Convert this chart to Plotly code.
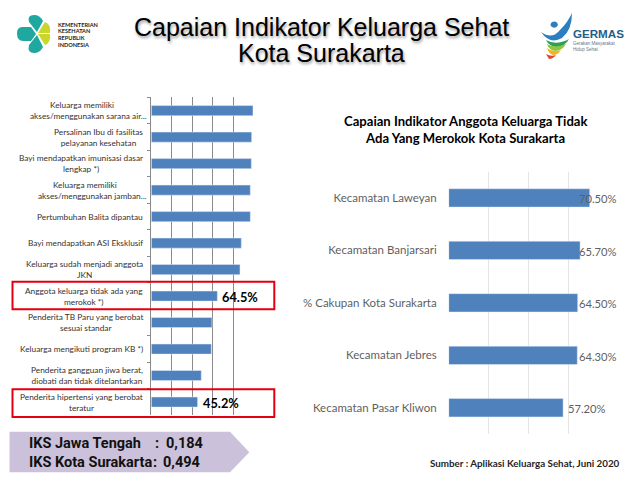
import re
import plotly.graph_objects as go

W = 638
H = 478

# left chart
indikator = [
    "Keluarga memiliki\u00a0\u00a0\u00a0\u00a0\u00a0\u00a0<br>akses/menggunakan sarana air...",
    "Persalinan Ibu di fasilitas<br>pelayanan kesehatan",
    "Bayi mendapatkan imunisasi dasar<br>lengkap *)",
    "Keluarga memiliki\u00a0\u00a0\u00a0\u00a0\u00a0\u00a0\u00a0<br>akses/menggunakan jamban...",
    "Pertumbuhan Balita dipantau",
    "Bayi mendapatkan ASI Eksklusif",
    "Keluarga sudah menjadi anggota<br>JKN",
    "Anggota keluarga tidak ada yang<br>merokok *)",
    "Penderita TB Paru yang berobat<br>sesuai standar",
    "Keluarga mengikuti program KB *)",
    "Penderita gangguan jiwa berat,<br>diobati dan tidak ditelantarkan",
    "Penderita hipertensi yang berobat<br>teratur",
]
capaian = [99.3, 98.0, 97.7, 96.7, 96.7, 87.9, 86.6, 64.5, 59.2, 58.6, 48.8, 45.2]
highlight = {7: "64.5%", 11: "45.2%"}

# right chart
kecamatan = ["Kecamatan Laweyan", "Kecamatan Banjarsari", "% Cakupan Kota Surakarta",
             "Kecamatan Jebres", "Kecamatan Pasar Kliwon"]
merokok = [70.5, 65.7, 64.5, 64.3, 57.2]
label_merokok = ["70.50%", "65.70%", "64.50%", "64.30%", "57.20%"]
geser_label = [-13, -3, -1, -0.5, 3]

BLUE = "#4f81bd"
CALIBRI = "Lato"


def px(x):
    return x / W


def py(y):
    return 1 - y / H


def path(s):
    # svg path written in page pixels, turned into paper coordinates
    return re.sub(r"(-?[\d.]+),(-?[\d.]+)",
                  lambda m: f"{px(float(m[1])):.4f},{py(float(m[2])):.4f}", s)


def blob(s, color, layer="above"):
    return dict(type="path", xref="paper", yref="paper", path=path(s),
                fillcolor=color, line=dict(width=0), layer=layer)


def tulis(x, y, text, size, color="#000000", family=CALIBRI, anchor="center", **kw):
    fig.add_annotation(x=px(x), y=py(y), xref="paper", yref="paper", text=text,
                       showarrow=False, xanchor=anchor, yanchor="middle",
                       font=dict(size=size, color=color, family=family), **kw)


fig = go.Figure()

fig.add_trace(go.Bar(x=capaian, y=indikator, orientation="h", marker_color=BLUE,
                     width=0.38, xaxis="x", yaxis="y", hoverinfo="skip"))
fig.add_trace(go.Bar(x=merokok, y=kecamatan, orientation="h", marker_color=BLUE,
                     width=0.35, xaxis="x2", yaxis="y2", hoverinfo="skip"))

fig.update_layout(
    width=W, height=H, margin=dict(l=0, r=0, t=0, b=0), showlegend=False,
    paper_bgcolor="white", plot_bgcolor="white",
    font=dict(family=CALIBRI),
    xaxis=dict(domain=[px(151.3), px(253.7)], range=[0, 100], dtick=20, showticklabels=False,
               showgrid=True, gridcolor="#8a8a8a", gridwidth=1, zeroline=False, ticks=""),
    yaxis=dict(domain=[py(415.3), py(97.4)], autorange="reversed", type="category",
               showticklabels=False, showline=True, linecolor="#8a8a8a", linewidth=1,
               ticks="outside", ticklen=3, tickcolor="#8a8a8a", tickson="boundaries",
               showgrid=False),
    xaxis2=dict(domain=[px(448.7), px(608.7)], range=[0, 80], dtick=20, showticklabels=False,
                showgrid=True, gridcolor="#e4e4e4", gridwidth=1, zeroline=False, anchor="y2"),
    yaxis2=dict(domain=[py(434), py(171.7)], autorange="reversed", type="category", anchor="x2",
                showgrid=False, showline=False, ticks="", ticklabelstandoff=11,
                tickfont=dict(size=11.5, color="#5f5f5f", family=CALIBRI)),
)

# category labels of the left chart, lines centred on each other
for nama in indikator:
    # the two cut off labels stick out a bit further towards the axis
    geser = 4 if nama.endswith("...") else 0
    fig.add_annotation(x=px(144.5), y=nama, xref="paper", yref="y", text=nama, showarrow=False,
                       xanchor="right", yanchor="middle", align="center", xshift=geser,
                       font=dict(size=8.3, color="#333333", family=CALIBRI))

for i, teks in highlight.items():
    fig.add_annotation(x=capaian[i], y=indikator[i], xref="x", yref="y", text=teks, showarrow=False,
                       xanchor="left", yanchor="middle", xshift=3, yshift=-1,
                       font=dict(size=12.8, color="#000000", family=CALIBRI, weight="bold"))

for nama, nilai, teks, geser in zip(kecamatan, merokok, label_merokok, geser_label):
    fig.add_annotation(x=nilai, y=nama, xref="x2", yref="y2", text=teks, showarrow=False,
                       xanchor="left", yanchor="middle", xshift=geser, yshift=-1,
                       font=dict(size=11.2, color="#5f5f5f", family=CALIBRI))

shapes = [
    dict(type="rect", xref="paper", yref="paper", x0=px(12.5), x1=px(274.3), y0=py(281.7), y1=py(309.3),
         line=dict(color="#e3000f", width=2)),
    dict(type="rect", xref="paper", yref="paper", x0=px(12.5), x1=px(274.3), y0=py(389.3), y1=py(417),
         line=dict(color="#e3000f", width=2)),
    blob("M 9.5,431.7 L 230,431.7 L 249.3,452.3 L 230,472.3 L 9.5,472.3 Z", "#ccc1da"),
    # kemenkes logo
    blob("M 17,33 Q 17,27 23,27 L 31,27 L 36,34 L 31,41 L 23,41 Q 17,41 17,33 Z", "#1fa8a0"),
    blob("M 37,32 L 29,22 Q 27,15 34,15 Q 40,15 43,21 Z", "#1fa8a0"),
    blob("M 37,35 L 29,45 Q 27,53 34,53 Q 40,53 43,47 Z", "#1fa8a0"),
    blob("M 38,33 L 45,22 Q 51,24 50,33 Z", "#c9d62b"),
    blob("M 38,34 L 45,45 Q 51,43 50,34 Z", "#c9d62b"),
    # germas logo
    blob("M 541,32 Q 552,40 560,30 Q 568,22 572,13 Q 572,30 562,38 Q 550,45 541,32 Z", "#2a7fc1"),
    blob("M 552,22 Q 557,20 558,25 Q 556,29 552,27 Q 549,25 552,22 Z", "#2a7fc1"),
    blob("M 546,40 Q 556,46 569,39 Q 565,47 556,47 Q 549,46 546,40 Z", "#2e9e5b"),
    blob("M 547,44 Q 555,49 566,44 Q 562,51 555,51 Q 549,50 547,44 Z", "#8dc63f"),
    blob("M 547,48 Q 553,53 561,50 Q 558,55 553,55 Q 549,54 547,48 Z", "#f4b223"),
    blob("M 546,54 Q 551,57 556,55 Q 553,59 549,59 Z", "#e2452f"),
]
fig.update_layout(shapes=shapes)

# judul
ARIAL = "Liberation Sans"
SHADOW = "1px 2px 3px rgba(0,0,0,0.4)"
fig.add_annotation(x=px(321), y=py(27), xref="paper", yref="paper", showarrow=False,
                   text="Capaian Indikator Keluarga Sehat", yanchor="middle",
                   font=dict(size=25, color="#000000", family=ARIAL, shadow=SHADOW))
fig.add_annotation(x=px(321), y=py(53), xref="paper", yref="paper", showarrow=False,
                   text="Kota Surakarta", yanchor="middle",
                   font=dict(size=25, color="#000000", family=ARIAL, shadow=SHADOW))

for y, teks in zip([24, 31, 37.7, 44.3], ["KEMENTERIAN", "KESEHATAN", "REPUBLIK", "INDONESIA"]):
    tulis(55.5, y, f"<b>{teks}</b>", 5.6, "#222222", CALIBRI, "left")
tulis(570.5, 33, "<b>GERMAS</b>", 11.6, "#1d5f8a", ARIAL, "left")
tulis(570.5, 43, "Gerakan Masyarakat", 4.5, "#667788", ARIAL, "left")
tulis(570.5, 49, "Hidup Sehat", 4.5, "#667788", ARIAL, "left")

tulis(465, 120.7, "<b>Capaian Indikator Anggota Keluarga Tidak</b>", 13.1)
tulis(465, 138.3, "<b>Ada Yang Merokok Kota Surakarta</b>", 13.1)

NARROW = "Roboto"
tulis(27, 443.5, "<b>IKS Jawa Tengah</b>", 14.5, "#111111", NARROW, "left")
tulis(153, 443.5, "<b>:</b>", 14.5, "#111111", NARROW, "left")
tulis(164, 443.5, "<b>0,184</b>", 14.5, "#111111", NARROW, "left")
tulis(27, 462.5, "<b>IKS Kota Surakarta</b>", 14.5, "#111111", NARROW, "left")
tulis(151, 462.5, "<b>:</b>", 14.5, "#111111", NARROW, "left")
tulis(161, 462.5, "<b>0,494</b>", 14.5, "#111111", NARROW, "left")

tulis(524.5, 462.7, "<b>Sumber : Aplikasi Keluarga Sehat, Juni 2020</b>", 9.8, "#262626")

# the default page keeps an 8px body margin
fig.write_html("out.html", config=dict(displayModeBar=False),
               post_script="document.body.style.margin = '0';")
